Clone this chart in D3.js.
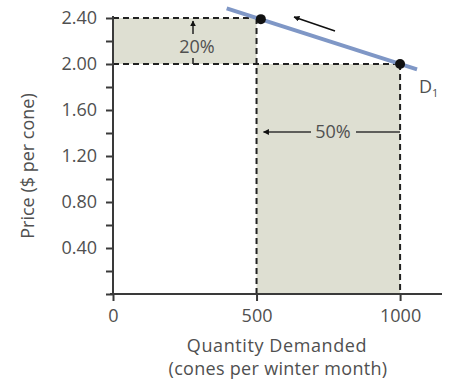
<!DOCTYPE html>
<html>
<head>
<meta charset="utf-8">
<script src="https://cdn.jsdelivr.net/npm/d3@7/dist/d3.min.js"></script>
<style>
  body { margin: 0; background: #fff; }
  text { font-family: "Open Sans", sans-serif; fill: #505050; }
</style>
</head>
<body>
<div id="chart"></div>
<script>
// demand curve D1 (quantity, price)
var demandLine = [[396, 2.483], [1059, 1.953]];
var points = [[515, 2.39], [1000, 2.00]];
var priceTicks = [0, 0.2, 0.4, 0.6, 0.8, 1.0, 1.2, 1.4, 1.6, 1.8, 2.0, 2.2, 2.4];
var priceLabels = [0.4, 0.8, 1.2, 1.6, 2.0, 2.4];
var qtyTicks = [0, 500, 1000];
// shaded areas: [q0, q1, p0, p1]
var areas = [[0, 500, 2.0, 2.4], [500, 1000, 0, 2.0]];

var width = 474, height = 388;
var fs = "18px";

var xScale = d3.scaleLinear().domain([0, 1146]).range([113, 442]);
var yScale = d3.scaleLinear().domain([0, 2.4]).range([294, 18]);

var svg = d3.select("#chart").append("svg")
  .attr("width", width)
  .attr("height", height);

svg.append("defs").append("marker")
  .attr("id", "head")
  .attr("viewBox", "0 0 10 10")
  .attr("refX", 9).attr("refY", 5)
  .attr("markerWidth", 4).attr("markerHeight", 4)
  .attr("orient", "auto")
  .append("path")
  .attr("d", "M0,0L10,5L0,10Z")
  .style("fill", "#111");

// shaded boxes
svg.selectAll(".area")
  .data(areas)
  .enter()
  .append("rect")
  .attr("x", function(d) { return xScale(d[0]); })
  .attr("y", function(d) { return yScale(d[3]); })
  .attr("width", function(d) { return xScale(d[1]) - xScale(d[0]); })
  .attr("height", function(d) { return yScale(d[2]) - yScale(d[3]); })
  .style("fill", "#dedfd2");

// dashed guides
var dashes = [
  [[0, 2.4], [500, 2.4]],
  [[0, 2.0], [1000, 2.0]],
  [[500, 2.4], [500, 0]],
  [[1000, 2.0], [1000, 0]]
];
svg.selectAll(".dash")
  .data(dashes)
  .enter()
  .append("line")
  .attr("x1", function(d) { return xScale(d[0][0]); })
  .attr("y1", function(d) { return yScale(d[0][1]); })
  .attr("x2", function(d) { return xScale(d[1][0]); })
  .attr("y2", function(d) { return yScale(d[1][1]); })
  .style("stroke", "#222")
  .style("stroke-width", 2)
  .style("stroke-dasharray", "6,4");

// axes
var yAxis = d3.axisLeft(yScale)
  .tickValues(priceTicks)
  .tickSize(7)
  .tickSizeOuter(0)
  .tickFormat(function(d) {
    return priceLabels.some(function(p) { return Math.abs(p - d) < 1e-6; }) ? d3.format(".2f")(d) : "";
  });

var xAxis = d3.axisBottom(xScale)
  .tickValues(qtyTicks)
  .tickSize(7)
  .tickSizeOuter(0)
  .tickFormat(d3.format("d"));

var gy = svg.append("g")
  .attr("transform", "translate(" + xScale(0) + ",0)")
  .call(yAxis);
gy.select(".domain").attr("d", "M0," + (yScale(2.4) - 2) + "V" + yScale(0));

var gx = svg.append("g")
  .attr("transform", "translate(0," + yScale(0) + ")")
  .call(xAxis);
gx.select(".domain").attr("d", "M" + (xScale(0) - 3) + ",0H" + xScale(1146));

svg.selectAll(".domain, .tick line")
  .style("stroke", "#3a3a3a")
  .style("stroke-width", 2);
gy.selectAll(".tick text")
  .attr("x", -16)
  .style("font-size", fs)
  .style("font-family", "'Open Sans', sans-serif")
  .style("fill", "#505050");
gx.selectAll(".tick text")
  .attr("y", 15)
  .style("font-size", fs)
  .style("font-family", "'Open Sans', sans-serif")
  .style("fill", "#505050");

// demand curve
svg.append("line")
  .attr("x1", xScale(demandLine[0][0]))
  .attr("y1", yScale(demandLine[0][1]))
  .attr("x2", xScale(demandLine[1][0]))
  .attr("y2", yScale(demandLine[1][1]))
  .style("stroke", "#7f97c6")
  .style("stroke-width", 4);

svg.selectAll(".dot")
  .data(points)
  .enter()
  .append("circle")
  .attr("cx", function(d) { return xScale(d[0]); })
  .attr("cy", function(d) { return yScale(d[1]); })
  .attr("r", 5)
  .style("fill", "#111");

// D1 label
var dl = svg.append("text")
  .attr("x", 419)
  .attr("y", 93)
  .style("font-size", fs);
dl.append("tspan").text("D");
dl.append("tspan").attr("dy", 4).style("font-size", "11px").text("1");

// movement arrow along curve
svg.append("line")
  .attr("x1", 335).attr("y1", 31)
  .attr("x2", 294).attr("y2", 17)
  .style("stroke", "#111")
  .style("stroke-width", 1.5)
  .attr("marker-end", "url(#head)");

// 20% label and arrow
svg.append("line")
  .attr("x1", 193).attr("y1", 34)
  .attr("x2", 193).attr("y2", yScale(2.4) + 3)
  .style("stroke", "#222")
  .style("stroke-width", 1.5)
  .attr("marker-end", "url(#head)");
svg.append("line")
  .attr("x1", 193).attr("y1", 58)
  .attr("x2", 193).attr("y2", yScale(2.0))
  .style("stroke", "#222")
  .style("stroke-width", 1.5);
svg.append("text")
  .attr("x", 197)
  .attr("y", 53)
  .style("text-anchor", "middle")
  .style("font-size", fs)
  .text("20%");

// 50% label and arrow
svg.append("line")
  .attr("x1", 311).attr("y1", 132)
  .attr("x2", xScale(500) + 7).attr("y2", 132)
  .style("stroke", "#333")
  .style("stroke-width", 1.5)
  .attr("marker-end", "url(#head)");
svg.append("line")
  .attr("x1", 356).attr("y1", 132)
  .attr("x2", xScale(1000)).attr("y2", 132)
  .style("stroke", "#333")
  .style("stroke-width", 1.5);
svg.append("text")
  .attr("x", 333)
  .attr("y", 138)
  .style("text-anchor", "middle")
  .style("font-size", fs)
  .text("50%");

// axis titles
svg.append("text")
  .attr("x", 277)
  .attr("y", 352)
  .style("text-anchor", "middle")
  .style("font-size", fs)
  .style("letter-spacing", "0.6px")
  .text("Quantity Demanded");
svg.append("text")
  .attr("x", 278)
  .attr("y", 375)
  .style("text-anchor", "middle")
  .style("font-size", fs)
  .style("letter-spacing", "0.3px")
  .text("(cones per winter month)");

svg.append("text")
  .attr("transform", "rotate(-90)")
  .attr("x", -166)
  .attr("y", 34)
  .style("text-anchor", "middle")
  .style("font-size", fs)
  .text("Price ($ per cone)");
</script>
</body>
</html>
